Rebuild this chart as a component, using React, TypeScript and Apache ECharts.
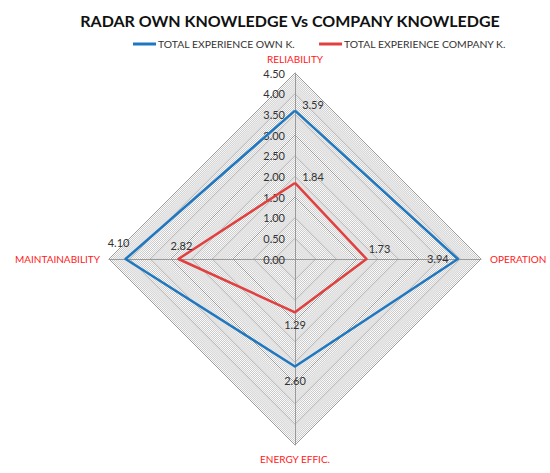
import React, { useEffect, useRef } from "react";
import * as echarts from "echarts";

const TITLE = "RADAR OWN KNOWLEDGE Vs COMPANY KNOWLEDGE";
const INDICATORS = ["RELIABILITY", "MAINTAINABILITY", "ENERGY EFFIC.", "OPERATION"];
const AXIS_MAX = 4.5;
const TICK_STEP = 0.5;
const SERIES_NAMES = ["TOTAL EXPERIENCE OWN K.", "TOTAL EXPERIENCE COMPANY K."];
const OWN = [3.59, 4.1, 2.6, 3.94];
const COMPANY = [1.84, 2.82, 1.29, 1.73];

const COLORS = ["#1f77c0", "#e0403f"];
// label offsets (style only), per series per indicator: [dx, dy]
const LABEL_OFFSETS = [
  [[18, -6], [-7, -17], [0, 14], [-20, -1]],
  [[18, -6], [3, -14], [0, 12], [13, -11]],
];

const FONT = "Lato, 'Open Sans', sans-serif";

export default function App() {
  const ref = useRef<HTMLDivElement>(null);
  useEffect(() => {
    document.body.style.margin = "0";
    const chart = echarts.init(ref.current!, null, { renderer: "svg" });
    const cx = 295;
    const cy = 259;
    const r = 186;
    const ringCount = 90;
    const splitColors: string[] = [];
    for (let i = 0; i < 10; i++) splitColors.push(i === 0 ? "#9a9a9a" : "#c6c6c6");

    const allValues = [OWN, COMPANY];
    const labelSeries: any[] = [];
    allValues.forEach((vals, s) => {
      vals.forEach((v, i) => {
        const [dx, dy] = LABEL_OFFSETS[s][i];
        labelSeries.push({
          type: "radar",
          silent: true,
          symbol: "circle",
          symbolSize: 0,
          itemStyle: { color: "transparent" },
          lineStyle: { width: 0, opacity: 0 },
          data: [{ value: vals }],
          label: {
            show: true,
            position: [dx, dy],
            align: "center",
            verticalAlign: "middle",
            color: "#333",
            fontSize: 11,
            fontFamily: FONT,
            formatter: (p: any) => (p.value === v ? Number(p.value).toFixed(2) : ""),
          },
        });
      });
    });

    chart.setOption({
      animation: false,
      textStyle: { fontFamily: FONT },
      title: {
        text: TITLE,
        left: 285,
        textAlign: "center",
        top: 7,
        textStyle: { fontSize: 16, fontWeight: "bold", color: "#111", fontFamily: FONT },
      },
      legend: {
        data: SERIES_NAMES,
        top: 34,
        left: 128,
        icon: "rect",
        itemWidth: 23,
        itemHeight: 3,
        itemGap: 24,
        textStyle: { fontSize: 10.4, color: "#333", fontFamily: FONT, padding: [0, 0, 0, -3] },
      },
      grid: { left: cx, top: cy - r, height: r, width: 1 },
      xAxis: { type: "value", show: false },
      yAxis: {
        type: "value",
        min: 0,
        max: AXIS_MAX,
        interval: TICK_STEP,
        axisLine: { show: false },
        axisTick: { show: false },
        splitLine: { show: false },
        axisLabel: {
          margin: 10,
          fontSize: 11,
          color: "#333",
          fontFamily: FONT,
          formatter: (v: number) => v.toFixed(2),
        },
      },
      radar: {
        center: [cx, cy],
        radius: r,
        shape: "polygon",
        splitNumber: ringCount,
        nameGap: 9,
        indicator: INDICATORS.map((n) => ({ name: n, min: 0, max: AXIS_MAX })),
        axisName: { color: "#ff2020", fontSize: 10, fontFamily: FONT },
        axisLine: { lineStyle: { color: "#9a9a9a", width: 1 } },
        splitLine: { lineStyle: { color: splitColors, width: 1 } },
        splitArea: { show: false },
      },
      series: [
        {
          type: "radar",
          name: SERIES_NAMES[0],
          symbol: "none",
          lineStyle: { color: COLORS[0], width: 2.5 },
          itemStyle: { color: COLORS[0] },
          data: [{ value: OWN, name: SERIES_NAMES[0] }],
        },
        {
          type: "radar",
          name: SERIES_NAMES[1],
          symbol: "none",
          lineStyle: { color: COLORS[1], width: 2.5 },
          itemStyle: { color: COLORS[1] },
          data: [{ value: COMPANY, name: SERIES_NAMES[1] }],
        },
        ...labelSeries,
      ],
    });
    return () => chart.dispose();
  }, []);
  return <div ref={ref} style={{ width: 550, height: 473 }} />;
}
